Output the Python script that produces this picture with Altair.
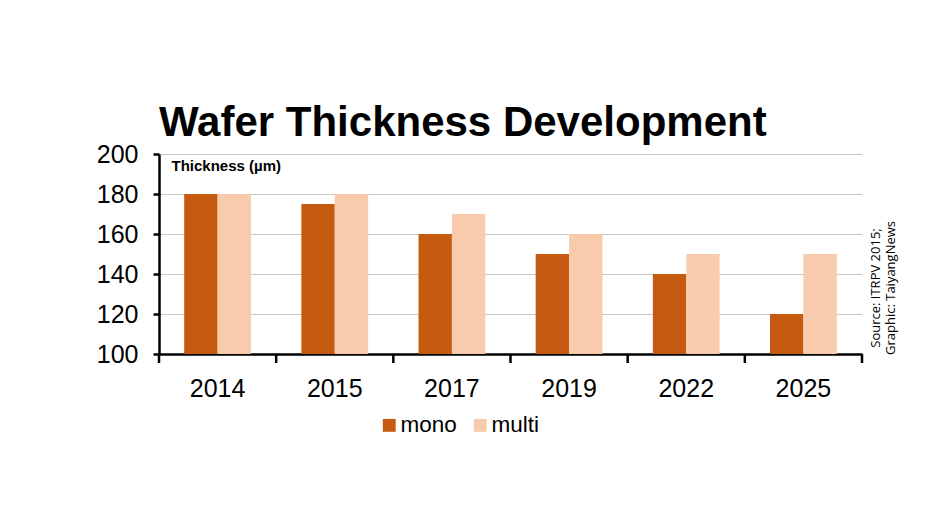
import altair as alt
import pandas as pd

years = ["2014", "2015", "2017", "2019", "2022", "2025"]
mono = [180, 175, 160, 150, 140, 120]
multi = [180, 180, 170, 160, 150, 150]
series = ["mono", "multi"]
colors = ["#C55A11", "#F8CBAD"]
y_ticks = [100, 120, 140, 160, 180, 200]
source_lines = ["Source: ITRPV 2015;", "Graphic: TaiyangNews"]

rows = []
for i, yr in enumerate(years):
    rows.append({"year": yr, "type": "mono", "value": mono[i]})
    rows.append({"year": yr, "type": "multi", "value": multi[i]})
df = pd.DataFrame(rows)

FONT = "Liberation Sans"
W = 703
P_IN = 0.43
P_OUT = P_IN / 2
STEP = W / len(years)
GAP = P_IN * STEP / 2  # pixels from band edge to group boundary

xscale = alt.Scale(domain=years, paddingInner=P_IN, paddingOuter=P_OUT)

bars = alt.Chart(df).mark_bar(clip=True).encode(
    x=alt.X("year:N", sort=years, scale=xscale,
            axis=alt.Axis(title=None, labelAngle=0, labelFontSize=25, labelFont=FONT,
                          labelColor="black", ticks=False, domain=True,
                          domainColor="black", domainWidth=2.5, labelPadding=22)),
    xOffset=alt.XOffset("type:N", sort=series),
    y=alt.Y("value:Q", scale=alt.Scale(domain=[100, 200], nice=False, zero=False),
            axis=alt.Axis(values=y_ticks, title="Thickness (µm)", titleAngle=0,
                          titleX=12, titleY=16, titleAlign="left", titleBaseline="alphabetic",
                          titleFontSize=15, titleFont=FONT, titleFontWeight="bold",
                          titleColor="black",
                          labelFontSize=25, labelFont=FONT, labelColor="black",
                          labelPadding=15,
                          domainColor="black", domainWidth=2.5,
                          tickColor="black", tickWidth=2.5, tickSize=6,
                          grid=True, gridColor="#C8C8C8", gridWidth=1)),
    color=alt.Color("type:N", sort=series,
                    scale=alt.Scale(domain=series, range=colors),
                    legend=alt.Legend(title=None, orient="none", direction="horizontal",
                                      legendX=219, legendY=260,
                                      symbolType="square", symbolSize=165,
                                      symbolStrokeWidth=0, symbolOpacity=1,
                                      labelFontSize=22.5, labelFont=FONT, labelColor="black",
                                      columnPadding=12, labelOffset=0)),
)

tick_df = pd.DataFrame({"year": years})
last_df = pd.DataFrame({"year": [years[-1]]})

ticks_start = alt.Chart(tick_df).mark_rule(color="black", strokeWidth=2.5, xOffset=-GAP).encode(
    x=alt.X("year:N", sort=years, scale=xscale, bandPosition=0),
    y=alt.value(200),
    y2=alt.value(209),
)
ticks_end = alt.Chart(last_df).mark_rule(color="black", strokeWidth=2.5, xOffset=GAP).encode(
    x=alt.X("year:N", sort=years, scale=xscale, bandPosition=1),
    y=alt.value(200),
    y2=alt.value(209),
)

src_df = pd.DataFrame({"t": [source_lines]})
source = alt.Chart(src_df).mark_text(
    angle=270, font="Open Sans", fontSize=13, color="black",
    align="center", baseline="top", lineHeight=15,
).encode(
    text="t",
    x=alt.value(711),
    y=alt.value(134),
)

chart = alt.layer(bars, ticks_start, ticks_end, source).properties(
    width=W, height=200,
    title=alt.Title("Wafer Thickness Development", anchor="start", frame="group",
                    fontSize=42, font=FONT, fontWeight="bold", color="black", offset=-3),
    padding={"left": 151, "top": 146, "right": 60, "bottom": 100},
    autosize=alt.AutoSizeParams(type="none"),
).configure_view(stroke=None)

chart.save("out.html", embed_options={"renderer": "svg", "actions": False})
